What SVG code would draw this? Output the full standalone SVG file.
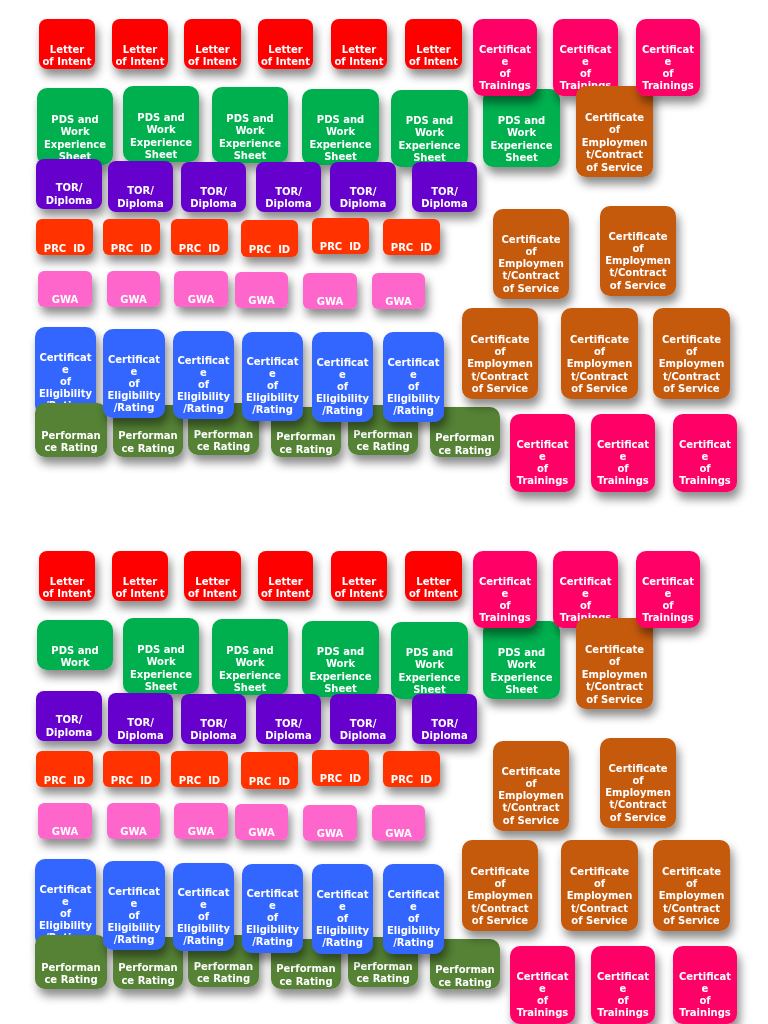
<svg xmlns="http://www.w3.org/2000/svg" width="768" height="1024" viewBox="0 0 768 1024">
<defs>
<filter id="sh" x="-40%" y="-40%" width="190%" height="200%">
<feDropShadow dx="3" dy="7" stdDeviation="5" flood-color="#000" flood-opacity="0.45"/>
</filter>
<style>
.node{filter:url(#sh)}
.node text{font-family:"DejaVu Sans","Liberation Sans",sans-serif;font-weight:bold;font-size:10px;fill:#fff;text-anchor:middle}
.red rect{fill:#FF0000}
.grn rect{fill:#00B050}
.pnk rect{fill:#FF0066}
.org rect{fill:#C55A11}
.pur rect{fill:#6600CC}
.prc rect{fill:#FF3300}
.gwa rect{fill:#FF66CC}
.blu rect{fill:#3366FF}
.olv rect{fill:#548235}
</style>
</defs>
<rect width="768" height="1024" fill="#fff"/>
<g id="connectors"/>

<g id="top">
<g id="t-loi-1" class="node red"><rect x="39" y="19" width="56" height="50" rx="8"/><text x="67" y="52.5">Letter<tspan x="67" dy="12.5">of Intent</tspan></text></g>
<g id="t-loi-2" class="node red"><rect x="112" y="19" width="56" height="50" rx="8"/><text x="140" y="52.5">Letter<tspan x="140" dy="12.5">of Intent</tspan></text></g>
<g id="t-loi-3" class="node red"><rect x="184" y="19" width="57" height="50" rx="8"/><text x="212.5" y="52.5">Letter<tspan x="212.5" dy="12.5">of Intent</tspan></text></g>
<g id="t-loi-4" class="node red"><rect x="258" y="19" width="55" height="50" rx="8"/><text x="285.5" y="52.5">Letter<tspan x="285.5" dy="12.5">of Intent</tspan></text></g>
<g id="t-loi-5" class="node red"><rect x="331" y="19" width="56" height="50" rx="8"/><text x="359" y="52.5">Letter<tspan x="359" dy="12.5">of Intent</tspan></text></g>
<g id="t-loi-6" class="node red"><rect x="405" y="19" width="57" height="50" rx="8"/><text x="433.5" y="52.5">Letter<tspan x="433.5" dy="12.5">of Intent</tspan></text></g>

<g id="t-pds-1" class="node grn"><rect x="37" y="88" width="76" height="77" rx="10"/><text x="75" y="123">PDS and<tspan x="75" dy="12.4">Work</tspan><tspan x="75" dy="12.4">Experience</tspan><tspan x="75" dy="12.4">Sheet</tspan></text></g>
<g id="t-pds-2" class="node grn"><rect x="123" y="86" width="76" height="76" rx="10"/><text x="161" y="121">PDS and<tspan x="161" dy="12.4">Work</tspan><tspan x="161" dy="12.4">Experience</tspan><tspan x="161" dy="12.4">Sheet</tspan></text></g>
<g id="t-pds-3" class="node grn"><rect x="212" y="87" width="76" height="76" rx="10"/><text x="250" y="122">PDS and<tspan x="250" dy="12.4">Work</tspan><tspan x="250" dy="12.4">Experience</tspan><tspan x="250" dy="12.4">Sheet</tspan></text></g>
<g id="t-pds-4" class="node grn"><rect x="302" y="89" width="77" height="76" rx="10"/><text x="340.5" y="123">PDS and<tspan x="340.5" dy="12.4">Work</tspan><tspan x="340.5" dy="12.4">Experience</tspan><tspan x="340.5" dy="12.4">Sheet</tspan></text></g>
<g id="t-pds-5" class="node grn"><rect x="391" y="90" width="77" height="77" rx="10"/><text x="429.5" y="124">PDS and<tspan x="429.5" dy="12.4">Work</tspan><tspan x="429.5" dy="12.4">Experience</tspan><tspan x="429.5" dy="12.4">Sheet</tspan></text></g>
<g id="t-pds-6" class="node grn"><rect x="483" y="89" width="77" height="78" rx="10"/><text x="521.5" y="124">PDS and<tspan x="521.5" dy="12.4">Work</tspan><tspan x="521.5" dy="12.4">Experience</tspan><tspan x="521.5" dy="12.4">Sheet</tspan></text></g>

<g id="t-cot-1" class="node pnk"><rect x="473" y="19" width="64" height="77" rx="10"/><text x="505" y="52.5">Certificat<tspan x="505" dy="12.2">e</tspan><tspan x="505" dy="12.2">of</tspan><tspan x="505" dy="12.2">Trainings</tspan></text></g>
<g id="t-cot-2" class="node pnk"><rect x="553" y="19" width="65" height="77" rx="10"/><text x="585.5" y="52.5">Certificat<tspan x="585.5" dy="12.2">e</tspan><tspan x="585.5" dy="12.2">of</tspan><tspan x="585.5" dy="12.2">Trainings</tspan></text></g>
<g id="t-coe-0" class="node org"><rect x="576" y="86" width="77" height="91" rx="10"/><text x="614.5" y="120.5">Certificate<tspan x="614.5" dy="12.5">of</tspan><tspan x="614.5" dy="12.5">Employmen</tspan><tspan x="614.5" dy="12.5">t/Contract</tspan><tspan x="614.5" dy="12.5">of Service</tspan></text></g>
<g id="t-cot-3" class="node pnk"><rect x="636" y="19" width="64" height="77" rx="10"/><text x="668" y="52.5">Certificat<tspan x="668" dy="12.2">e</tspan><tspan x="668" dy="12.2">of</tspan><tspan x="668" dy="12.2">Trainings</tspan></text></g>

<g id="t-tor-1" class="node pur"><rect x="36" y="159" width="66" height="50" rx="8"/><text x="69" y="191">TOR/<tspan x="69" dy="12.5">Diploma</tspan></text></g>
<g id="t-tor-2" class="node pur"><rect x="108" y="161" width="65" height="51" rx="8"/><text x="140.5" y="194">TOR/<tspan x="140.5" dy="12.5">Diploma</tspan></text></g>
<g id="t-tor-3" class="node pur"><rect x="181" y="162" width="65" height="50" rx="8"/><text x="213.5" y="194.5">TOR/<tspan x="213.5" dy="12.5">Diploma</tspan></text></g>
<g id="t-tor-4" class="node pur"><rect x="256" y="162" width="65" height="50" rx="8"/><text x="288.5" y="194.5">TOR/<tspan x="288.5" dy="12.5">Diploma</tspan></text></g>
<g id="t-tor-5" class="node pur"><rect x="330" y="162" width="66" height="50" rx="8"/><text x="363" y="194.5">TOR/<tspan x="363" dy="12.5">Diploma</tspan></text></g>
<g id="t-tor-6" class="node pur"><rect x="412" y="162" width="65" height="50" rx="8"/><text x="444.5" y="194.5">TOR/<tspan x="444.5" dy="12.5">Diploma</tspan></text></g>

<g id="t-prc-1" class="node prc"><rect x="36" y="219" width="57" height="36" rx="6"/><text x="64.5" y="251.5" xml:space="preserve">PRC  ID</text></g>
<g id="t-prc-2" class="node prc"><rect x="103" y="219" width="57" height="36" rx="6"/><text x="131.5" y="251.5" xml:space="preserve">PRC  ID</text></g>
<g id="t-prc-3" class="node prc"><rect x="171" y="219" width="57" height="36" rx="6"/><text x="199.5" y="251.5" xml:space="preserve">PRC  ID</text></g>
<g id="t-prc-4" class="node prc"><rect x="241" y="220" width="57" height="37" rx="6"/><text x="269.5" y="252.5" xml:space="preserve">PRC  ID</text></g>
<g id="t-prc-5" class="node prc"><rect x="312" y="218" width="57" height="36" rx="6"/><text x="340.5" y="249.5" xml:space="preserve">PRC  ID</text></g>
<g id="t-prc-6" class="node prc"><rect x="383" y="219" width="57" height="36" rx="6"/><text x="411.5" y="251" xml:space="preserve">PRC  ID</text></g>

<g id="t-gwa-1" class="node gwa"><rect x="38" y="271" width="54" height="36" rx="6"/><text x="65" y="302.6">GWA</text></g>
<g id="t-gwa-2" class="node gwa"><rect x="107" y="271" width="53" height="36" rx="6"/><text x="133.5" y="302.6">GWA</text></g>
<g id="t-gwa-3" class="node gwa"><rect x="174" y="271" width="54" height="36" rx="6"/><text x="201" y="302.6">GWA</text></g>
<g id="t-gwa-4" class="node gwa"><rect x="235" y="272" width="53" height="36" rx="6"/><text x="261.5" y="303.6">GWA</text></g>
<g id="t-gwa-5" class="node gwa"><rect x="303" y="273" width="54" height="36" rx="6"/><text x="330" y="304.6">GWA</text></g>
<g id="t-gwa-6" class="node gwa"><rect x="372" y="273" width="53" height="36" rx="6"/><text x="398.5" y="304.6">GWA</text></g>

<g id="t-coe-1" class="node org"><rect x="493" y="209" width="76" height="90" rx="10"/><text x="531" y="242.5">Certificate<tspan x="531" dy="12.3">of</tspan><tspan x="531" dy="12.3">Employmen</tspan><tspan x="531" dy="12.3">t/Contract</tspan><tspan x="531" dy="12.3">of Service</tspan></text></g>
<g id="t-coe-2" class="node org"><rect x="600" y="206" width="76" height="90" rx="10"/><text x="638" y="239.5">Certificate<tspan x="638" dy="12.3">of</tspan><tspan x="638" dy="12.3">Employmen</tspan><tspan x="638" dy="12.3">t/Contract</tspan><tspan x="638" dy="12.3">of Service</tspan></text></g>

<g id="t-cer-1" class="node blu"><rect x="35" y="327" width="61" height="88" rx="10"/><text x="65.5" y="360.6">Certificat<tspan x="65.5" dy="12.2">e</tspan><tspan x="65.5" dy="12.2">of</tspan><tspan x="65.5" dy="12.2">Eligibility</tspan><tspan x="65.5" dy="12.2">/Rating</tspan></text></g>

<g id="t-per-1" class="node olv"><rect x="35" y="403" width="72" height="54" rx="10"/><text x="71" y="438.5">Performan<tspan x="71" dy="12.6">ce Rating</tspan></text></g>
<g id="t-per-2" class="node olv"><rect x="113" y="405" width="70" height="52" rx="10"/><text x="148" y="439">Performan<tspan x="148" dy="12.6">ce Rating</tspan></text></g>
<g id="t-per-3" class="node olv"><rect x="188" y="403" width="71" height="52" rx="10"/><text x="223.5" y="437.7">Performan<tspan x="223.5" dy="12.6">ce Rating</tspan></text></g>
<g id="t-per-4" class="node olv"><rect x="271" y="407" width="70" height="50" rx="10"/><text x="306" y="440.3">Performan<tspan x="306" dy="12.6">ce Rating</tspan></text></g>
<g id="t-per-5" class="node olv"><rect x="348" y="405" width="70" height="50" rx="10"/><text x="383" y="437.7">Performan<tspan x="383" dy="12.6">ce Rating</tspan></text></g>
<g id="t-per-6" class="node olv"><rect x="430" y="407" width="70" height="50" rx="10"/><text x="465" y="441">Performan<tspan x="465" dy="12.6">ce Rating</tspan></text></g>

<g id="t-cer-2" class="node blu"><rect x="103" y="329" width="62" height="89" rx="10"/><text x="134" y="362.6">Certificat<tspan x="134" dy="12.2">e</tspan><tspan x="134" dy="12.2">of</tspan><tspan x="134" dy="12.2">Eligibility</tspan><tspan x="134" dy="12.2">/Rating</tspan></text></g>
<g id="t-cer-3" class="node blu"><rect x="173" y="331" width="61" height="88" rx="10"/><text x="203.5" y="363.6">Certificat<tspan x="203.5" dy="12.2">e</tspan><tspan x="203.5" dy="12.2">of</tspan><tspan x="203.5" dy="12.2">Eligibility</tspan><tspan x="203.5" dy="12.2">/Rating</tspan></text></g>
<g id="t-cer-4" class="node blu"><rect x="242" y="332" width="61" height="89" rx="10"/><text x="272.5" y="364.6">Certificat<tspan x="272.5" dy="12.2">e</tspan><tspan x="272.5" dy="12.2">of</tspan><tspan x="272.5" dy="12.2">Eligibility</tspan><tspan x="272.5" dy="12.2">/Rating</tspan></text></g>
<g id="t-cer-5" class="node blu"><rect x="312" y="332" width="61" height="90" rx="10"/><text x="342.5" y="365.6">Certificat<tspan x="342.5" dy="12.2">e</tspan><tspan x="342.5" dy="12.2">of</tspan><tspan x="342.5" dy="12.2">Eligibility</tspan><tspan x="342.5" dy="12.2">/Rating</tspan></text></g>
<g id="t-cer-6" class="node blu"><rect x="383" y="332" width="61" height="90" rx="10"/><text x="413.5" y="365.6">Certificat<tspan x="413.5" dy="12.2">e</tspan><tspan x="413.5" dy="12.2">of</tspan><tspan x="413.5" dy="12.2">Eligibility</tspan><tspan x="413.5" dy="12.2">/Rating</tspan></text></g>

<g id="t-coe-3" class="node org"><rect x="462" y="308" width="76" height="91" rx="10"/><text x="500" y="342.6">Certificate<tspan x="500" dy="12.35">of</tspan><tspan x="500" dy="12.35">Employmen</tspan><tspan x="500" dy="12.35">t/Contract</tspan><tspan x="500" dy="12.35">of Service</tspan></text></g>
<g id="t-coe-4" class="node org"><rect x="561" y="308" width="77" height="91" rx="10"/><text x="599.5" y="342.6">Certificate<tspan x="599.5" dy="12.35">of</tspan><tspan x="599.5" dy="12.35">Employmen</tspan><tspan x="599.5" dy="12.35">t/Contract</tspan><tspan x="599.5" dy="12.35">of Service</tspan></text></g>
<g id="t-coe-5" class="node org"><rect x="653" y="308" width="77" height="91" rx="10"/><text x="691.5" y="342.6">Certificate<tspan x="691.5" dy="12.35">of</tspan><tspan x="691.5" dy="12.35">Employmen</tspan><tspan x="691.5" dy="12.35">t/Contract</tspan><tspan x="691.5" dy="12.35">of Service</tspan></text></g>

<g id="t-cot-4" class="node pnk"><rect x="510" y="414" width="65" height="78" rx="10"/><text x="542.5" y="447.6">Certificat<tspan x="542.5" dy="12.2">e</tspan><tspan x="542.5" dy="12.2">of</tspan><tspan x="542.5" dy="12.2">Trainings</tspan></text></g>
<g id="t-cot-5" class="node pnk"><rect x="591" y="414" width="64" height="78" rx="10"/><text x="623" y="447.6">Certificat<tspan x="623" dy="12.2">e</tspan><tspan x="623" dy="12.2">of</tspan><tspan x="623" dy="12.2">Trainings</tspan></text></g>
<g id="t-cot-6" class="node pnk"><rect x="673" y="414" width="64" height="78" rx="10"/><text x="705" y="447.6">Certificat<tspan x="705" dy="12.2">e</tspan><tspan x="705" dy="12.2">of</tspan><tspan x="705" dy="12.2">Trainings</tspan></text></g>
</g>

<g id="bottom" transform="translate(0,532)">
<g id="b-loi-1" class="node red"><rect x="39" y="19" width="56" height="50" rx="8"/><text x="67" y="52.5">Letter<tspan x="67" dy="12.5">of Intent</tspan></text></g>
<g id="b-loi-2" class="node red"><rect x="112" y="19" width="56" height="50" rx="8"/><text x="140" y="52.5">Letter<tspan x="140" dy="12.5">of Intent</tspan></text></g>
<g id="b-loi-3" class="node red"><rect x="184" y="19" width="57" height="50" rx="8"/><text x="212.5" y="52.5">Letter<tspan x="212.5" dy="12.5">of Intent</tspan></text></g>
<g id="b-loi-4" class="node red"><rect x="258" y="19" width="55" height="50" rx="8"/><text x="285.5" y="52.5">Letter<tspan x="285.5" dy="12.5">of Intent</tspan></text></g>
<g id="b-loi-5" class="node red"><rect x="331" y="19" width="56" height="50" rx="8"/><text x="359" y="52.5">Letter<tspan x="359" dy="12.5">of Intent</tspan></text></g>
<g id="b-loi-6" class="node red"><rect x="405" y="19" width="57" height="50" rx="8"/><text x="433.5" y="52.5">Letter<tspan x="433.5" dy="12.5">of Intent</tspan></text></g>

<g id="b-pds-1" class="node grn"><rect x="37" y="88" width="76" height="50" rx="10"/><text x="75" y="121.6">PDS and<tspan x="75" dy="12.4">Work</tspan></text></g>
<g id="b-pds-2" class="node grn"><rect x="123" y="86" width="76" height="76" rx="10"/><text x="161" y="121">PDS and<tspan x="161" dy="12.4">Work</tspan><tspan x="161" dy="12.4">Experience</tspan><tspan x="161" dy="12.4">Sheet</tspan></text></g>
<g id="b-pds-3" class="node grn"><rect x="212" y="87" width="76" height="76" rx="10"/><text x="250" y="122">PDS and<tspan x="250" dy="12.4">Work</tspan><tspan x="250" dy="12.4">Experience</tspan><tspan x="250" dy="12.4">Sheet</tspan></text></g>
<g id="b-pds-4" class="node grn"><rect x="302" y="89" width="77" height="76" rx="10"/><text x="340.5" y="123">PDS and<tspan x="340.5" dy="12.4">Work</tspan><tspan x="340.5" dy="12.4">Experience</tspan><tspan x="340.5" dy="12.4">Sheet</tspan></text></g>
<g id="b-pds-5" class="node grn"><rect x="391" y="90" width="77" height="77" rx="10"/><text x="429.5" y="124">PDS and<tspan x="429.5" dy="12.4">Work</tspan><tspan x="429.5" dy="12.4">Experience</tspan><tspan x="429.5" dy="12.4">Sheet</tspan></text></g>
<g id="b-pds-6" class="node grn"><rect x="483" y="89" width="77" height="78" rx="10"/><text x="521.5" y="124">PDS and<tspan x="521.5" dy="12.4">Work</tspan><tspan x="521.5" dy="12.4">Experience</tspan><tspan x="521.5" dy="12.4">Sheet</tspan></text></g>

<g id="b-cot-1" class="node pnk"><rect x="473" y="19" width="64" height="77" rx="10"/><text x="505" y="52.5">Certificat<tspan x="505" dy="12.2">e</tspan><tspan x="505" dy="12.2">of</tspan><tspan x="505" dy="12.2">Trainings</tspan></text></g>
<g id="b-cot-2" class="node pnk"><rect x="553" y="19" width="65" height="77" rx="10"/><text x="585.5" y="52.5">Certificat<tspan x="585.5" dy="12.2">e</tspan><tspan x="585.5" dy="12.2">of</tspan><tspan x="585.5" dy="12.2">Trainings</tspan></text></g>
<g id="b-coe-0" class="node org"><rect x="576" y="86" width="77" height="91" rx="10"/><text x="614.5" y="120.5">Certificate<tspan x="614.5" dy="12.5">of</tspan><tspan x="614.5" dy="12.5">Employmen</tspan><tspan x="614.5" dy="12.5">t/Contract</tspan><tspan x="614.5" dy="12.5">of Service</tspan></text></g>
<g id="b-cot-3" class="node pnk"><rect x="636" y="19" width="64" height="77" rx="10"/><text x="668" y="52.5">Certificat<tspan x="668" dy="12.2">e</tspan><tspan x="668" dy="12.2">of</tspan><tspan x="668" dy="12.2">Trainings</tspan></text></g>

<g id="b-tor-1" class="node pur"><rect x="36" y="159" width="66" height="50" rx="8"/><text x="69" y="191">TOR/<tspan x="69" dy="12.5">Diploma</tspan></text></g>
<g id="b-tor-2" class="node pur"><rect x="108" y="161" width="65" height="51" rx="8"/><text x="140.5" y="194">TOR/<tspan x="140.5" dy="12.5">Diploma</tspan></text></g>
<g id="b-tor-3" class="node pur"><rect x="181" y="162" width="65" height="50" rx="8"/><text x="213.5" y="194.5">TOR/<tspan x="213.5" dy="12.5">Diploma</tspan></text></g>
<g id="b-tor-4" class="node pur"><rect x="256" y="162" width="65" height="50" rx="8"/><text x="288.5" y="194.5">TOR/<tspan x="288.5" dy="12.5">Diploma</tspan></text></g>
<g id="b-tor-5" class="node pur"><rect x="330" y="162" width="66" height="50" rx="8"/><text x="363" y="194.5">TOR/<tspan x="363" dy="12.5">Diploma</tspan></text></g>
<g id="b-tor-6" class="node pur"><rect x="412" y="162" width="65" height="50" rx="8"/><text x="444.5" y="194.5">TOR/<tspan x="444.5" dy="12.5">Diploma</tspan></text></g>

<g id="b-prc-1" class="node prc"><rect x="36" y="219" width="57" height="36" rx="6"/><text x="64.5" y="251.5" xml:space="preserve">PRC  ID</text></g>
<g id="b-prc-2" class="node prc"><rect x="103" y="219" width="57" height="36" rx="6"/><text x="131.5" y="251.5" xml:space="preserve">PRC  ID</text></g>
<g id="b-prc-3" class="node prc"><rect x="171" y="219" width="57" height="36" rx="6"/><text x="199.5" y="251.5" xml:space="preserve">PRC  ID</text></g>
<g id="b-prc-4" class="node prc"><rect x="241" y="220" width="57" height="37" rx="6"/><text x="269.5" y="252.5" xml:space="preserve">PRC  ID</text></g>
<g id="b-prc-5" class="node prc"><rect x="312" y="218" width="57" height="36" rx="6"/><text x="340.5" y="249.5" xml:space="preserve">PRC  ID</text></g>
<g id="b-prc-6" class="node prc"><rect x="383" y="219" width="57" height="36" rx="6"/><text x="411.5" y="251" xml:space="preserve">PRC  ID</text></g>

<g id="b-gwa-1" class="node gwa"><rect x="38" y="271" width="54" height="36" rx="6"/><text x="65" y="302.6">GWA</text></g>
<g id="b-gwa-2" class="node gwa"><rect x="107" y="271" width="53" height="36" rx="6"/><text x="133.5" y="302.6">GWA</text></g>
<g id="b-gwa-3" class="node gwa"><rect x="174" y="271" width="54" height="36" rx="6"/><text x="201" y="302.6">GWA</text></g>
<g id="b-gwa-4" class="node gwa"><rect x="235" y="272" width="53" height="36" rx="6"/><text x="261.5" y="303.6">GWA</text></g>
<g id="b-gwa-5" class="node gwa"><rect x="303" y="273" width="54" height="36" rx="6"/><text x="330" y="304.6">GWA</text></g>
<g id="b-gwa-6" class="node gwa"><rect x="372" y="273" width="53" height="36" rx="6"/><text x="398.5" y="304.6">GWA</text></g>

<g id="b-coe-1" class="node org"><rect x="493" y="209" width="76" height="90" rx="10"/><text x="531" y="242.5">Certificate<tspan x="531" dy="12.3">of</tspan><tspan x="531" dy="12.3">Employmen</tspan><tspan x="531" dy="12.3">t/Contract</tspan><tspan x="531" dy="12.3">of Service</tspan></text></g>
<g id="b-coe-2" class="node org"><rect x="600" y="206" width="76" height="90" rx="10"/><text x="638" y="239.5">Certificate<tspan x="638" dy="12.3">of</tspan><tspan x="638" dy="12.3">Employmen</tspan><tspan x="638" dy="12.3">t/Contract</tspan><tspan x="638" dy="12.3">of Service</tspan></text></g>

<g id="b-cer-1" class="node blu"><rect x="35" y="327" width="61" height="88" rx="10"/><text x="65.5" y="360.6">Certificat<tspan x="65.5" dy="12.2">e</tspan><tspan x="65.5" dy="12.2">of</tspan><tspan x="65.5" dy="12.2">Eligibility</tspan><tspan x="65.5" dy="12.2">/Rating</tspan></text></g>

<g id="b-per-1" class="node olv"><rect x="35" y="403" width="72" height="54" rx="10"/><text x="71" y="438.5">Performan<tspan x="71" dy="12.6">ce Rating</tspan></text></g>
<g id="b-per-2" class="node olv"><rect x="113" y="405" width="70" height="52" rx="10"/><text x="148" y="439">Performan<tspan x="148" dy="12.6">ce Rating</tspan></text></g>
<g id="b-per-3" class="node olv"><rect x="188" y="403" width="71" height="52" rx="10"/><text x="223.5" y="437.7">Performan<tspan x="223.5" dy="12.6">ce Rating</tspan></text></g>
<g id="b-per-4" class="node olv"><rect x="271" y="407" width="70" height="50" rx="10"/><text x="306" y="440.3">Performan<tspan x="306" dy="12.6">ce Rating</tspan></text></g>
<g id="b-per-5" class="node olv"><rect x="348" y="405" width="70" height="50" rx="10"/><text x="383" y="437.7">Performan<tspan x="383" dy="12.6">ce Rating</tspan></text></g>
<g id="b-per-6" class="node olv"><rect x="430" y="407" width="70" height="50" rx="10"/><text x="465" y="441">Performan<tspan x="465" dy="12.6">ce Rating</tspan></text></g>

<g id="b-cer-2" class="node blu"><rect x="103" y="329" width="62" height="89" rx="10"/><text x="134" y="362.6">Certificat<tspan x="134" dy="12.2">e</tspan><tspan x="134" dy="12.2">of</tspan><tspan x="134" dy="12.2">Eligibility</tspan><tspan x="134" dy="12.2">/Rating</tspan></text></g>
<g id="b-cer-3" class="node blu"><rect x="173" y="331" width="61" height="88" rx="10"/><text x="203.5" y="363.6">Certificat<tspan x="203.5" dy="12.2">e</tspan><tspan x="203.5" dy="12.2">of</tspan><tspan x="203.5" dy="12.2">Eligibility</tspan><tspan x="203.5" dy="12.2">/Rating</tspan></text></g>
<g id="b-cer-4" class="node blu"><rect x="242" y="332" width="61" height="89" rx="10"/><text x="272.5" y="364.6">Certificat<tspan x="272.5" dy="12.2">e</tspan><tspan x="272.5" dy="12.2">of</tspan><tspan x="272.5" dy="12.2">Eligibility</tspan><tspan x="272.5" dy="12.2">/Rating</tspan></text></g>
<g id="b-cer-5" class="node blu"><rect x="312" y="332" width="61" height="90" rx="10"/><text x="342.5" y="365.6">Certificat<tspan x="342.5" dy="12.2">e</tspan><tspan x="342.5" dy="12.2">of</tspan><tspan x="342.5" dy="12.2">Eligibility</tspan><tspan x="342.5" dy="12.2">/Rating</tspan></text></g>
<g id="b-cer-6" class="node blu"><rect x="383" y="332" width="61" height="90" rx="10"/><text x="413.5" y="365.6">Certificat<tspan x="413.5" dy="12.2">e</tspan><tspan x="413.5" dy="12.2">of</tspan><tspan x="413.5" dy="12.2">Eligibility</tspan><tspan x="413.5" dy="12.2">/Rating</tspan></text></g>

<g id="b-coe-3" class="node org"><rect x="462" y="308" width="76" height="91" rx="10"/><text x="500" y="342.6">Certificate<tspan x="500" dy="12.35">of</tspan><tspan x="500" dy="12.35">Employmen</tspan><tspan x="500" dy="12.35">t/Contract</tspan><tspan x="500" dy="12.35">of Service</tspan></text></g>
<g id="b-coe-4" class="node org"><rect x="561" y="308" width="77" height="91" rx="10"/><text x="599.5" y="342.6">Certificate<tspan x="599.5" dy="12.35">of</tspan><tspan x="599.5" dy="12.35">Employmen</tspan><tspan x="599.5" dy="12.35">t/Contract</tspan><tspan x="599.5" dy="12.35">of Service</tspan></text></g>
<g id="b-coe-5" class="node org"><rect x="653" y="308" width="77" height="91" rx="10"/><text x="691.5" y="342.6">Certificate<tspan x="691.5" dy="12.35">of</tspan><tspan x="691.5" dy="12.35">Employmen</tspan><tspan x="691.5" dy="12.35">t/Contract</tspan><tspan x="691.5" dy="12.35">of Service</tspan></text></g>

<g id="b-cot-4" class="node pnk"><rect x="510" y="414" width="65" height="78" rx="10"/><text x="542.5" y="447.6">Certificat<tspan x="542.5" dy="12.2">e</tspan><tspan x="542.5" dy="12.2">of</tspan><tspan x="542.5" dy="12.2">Trainings</tspan></text></g>
<g id="b-cot-5" class="node pnk"><rect x="591" y="414" width="64" height="78" rx="10"/><text x="623" y="447.6">Certificat<tspan x="623" dy="12.2">e</tspan><tspan x="623" dy="12.2">of</tspan><tspan x="623" dy="12.2">Trainings</tspan></text></g>
<g id="b-cot-6" class="node pnk"><rect x="673" y="414" width="64" height="78" rx="10"/><text x="705" y="447.6">Certificat<tspan x="705" dy="12.2">e</tspan><tspan x="705" dy="12.2">of</tspan><tspan x="705" dy="12.2">Trainings</tspan></text></g>
</g>
</svg>
